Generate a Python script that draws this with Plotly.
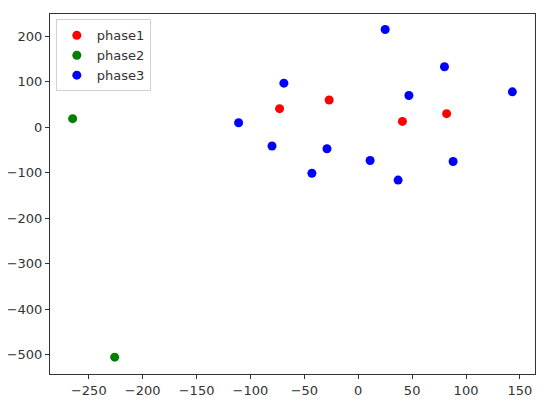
import plotly.graph_objects as go

# points
phase1_x = [-73, -27, 41, 82]
phase1_y = [41, 60, 13, 30]

phase2_x = [-265, -226]
phase2_y = [19, -505]

phase3_x = [-111, -80, -69, -29, -43, 11, 25, 37, 47, 80, 88, 143]
phase3_y = [10, -41, 97, -47, -101, -73, 215, -116, 70, 133, -75, 78]

x_ticks = [-250, -200, -150, -100, -50, 0, 50, 100, 150]
y_ticks = [200, 100, 0, -100, -200, -300, -400, -500]

fig = go.Figure()
for name, xs, ys, color in [
    ("phase1", phase1_x, phase1_y, "red"),
    ("phase2", phase2_x, phase2_y, "green"),
    ("phase3", phase3_x, phase3_y, "blue"),
]:
    fig.add_trace(
        go.Scatter(
            x=xs,
            y=ys,
            mode="markers",
            name=name,
            marker=dict(color=color, size=9, line=dict(width=0)),
        )
    )

axis_style = dict(
    showgrid=False,
    zeroline=False,
    showline=True,
    linecolor="#333333",
    linewidth=1,
    mirror=True,
    ticks="outside",
    ticklen=4,
    tickcolor="#333333",
    automargin=False,
    tickfont=dict(family="DejaVu Sans", size=13, color="#333333"),
)

fig.update_xaxes(range=[-286, 164], tickvals=x_ticks, **axis_style)
fig.update_yaxes(range=[-542, 249], tickvals=y_ticks, **axis_style)

# the page body adds an 8px margin, so the figure is a bit smaller than the window
fig.update_layout(
    width=542,
    height=396,
    margin=dict(l=42, r=15, t=6, b=30),
    plot_bgcolor="white",
    paper_bgcolor="white",
    font=dict(family="DejaVu Sans", size=13, color="#333333"),
    legend=dict(
        x=0.012,
        y=0.985,
        xanchor="left",
        yanchor="top",
        bgcolor="white",
        bordercolor="#d0d0d0",
        borderwidth=1,
        font=dict(family="DejaVu Sans", size=13, color="#333333"),
        itemsizing="trace",
        tracegroupgap=0,
    ),
)

fig.write_html("out.html")
